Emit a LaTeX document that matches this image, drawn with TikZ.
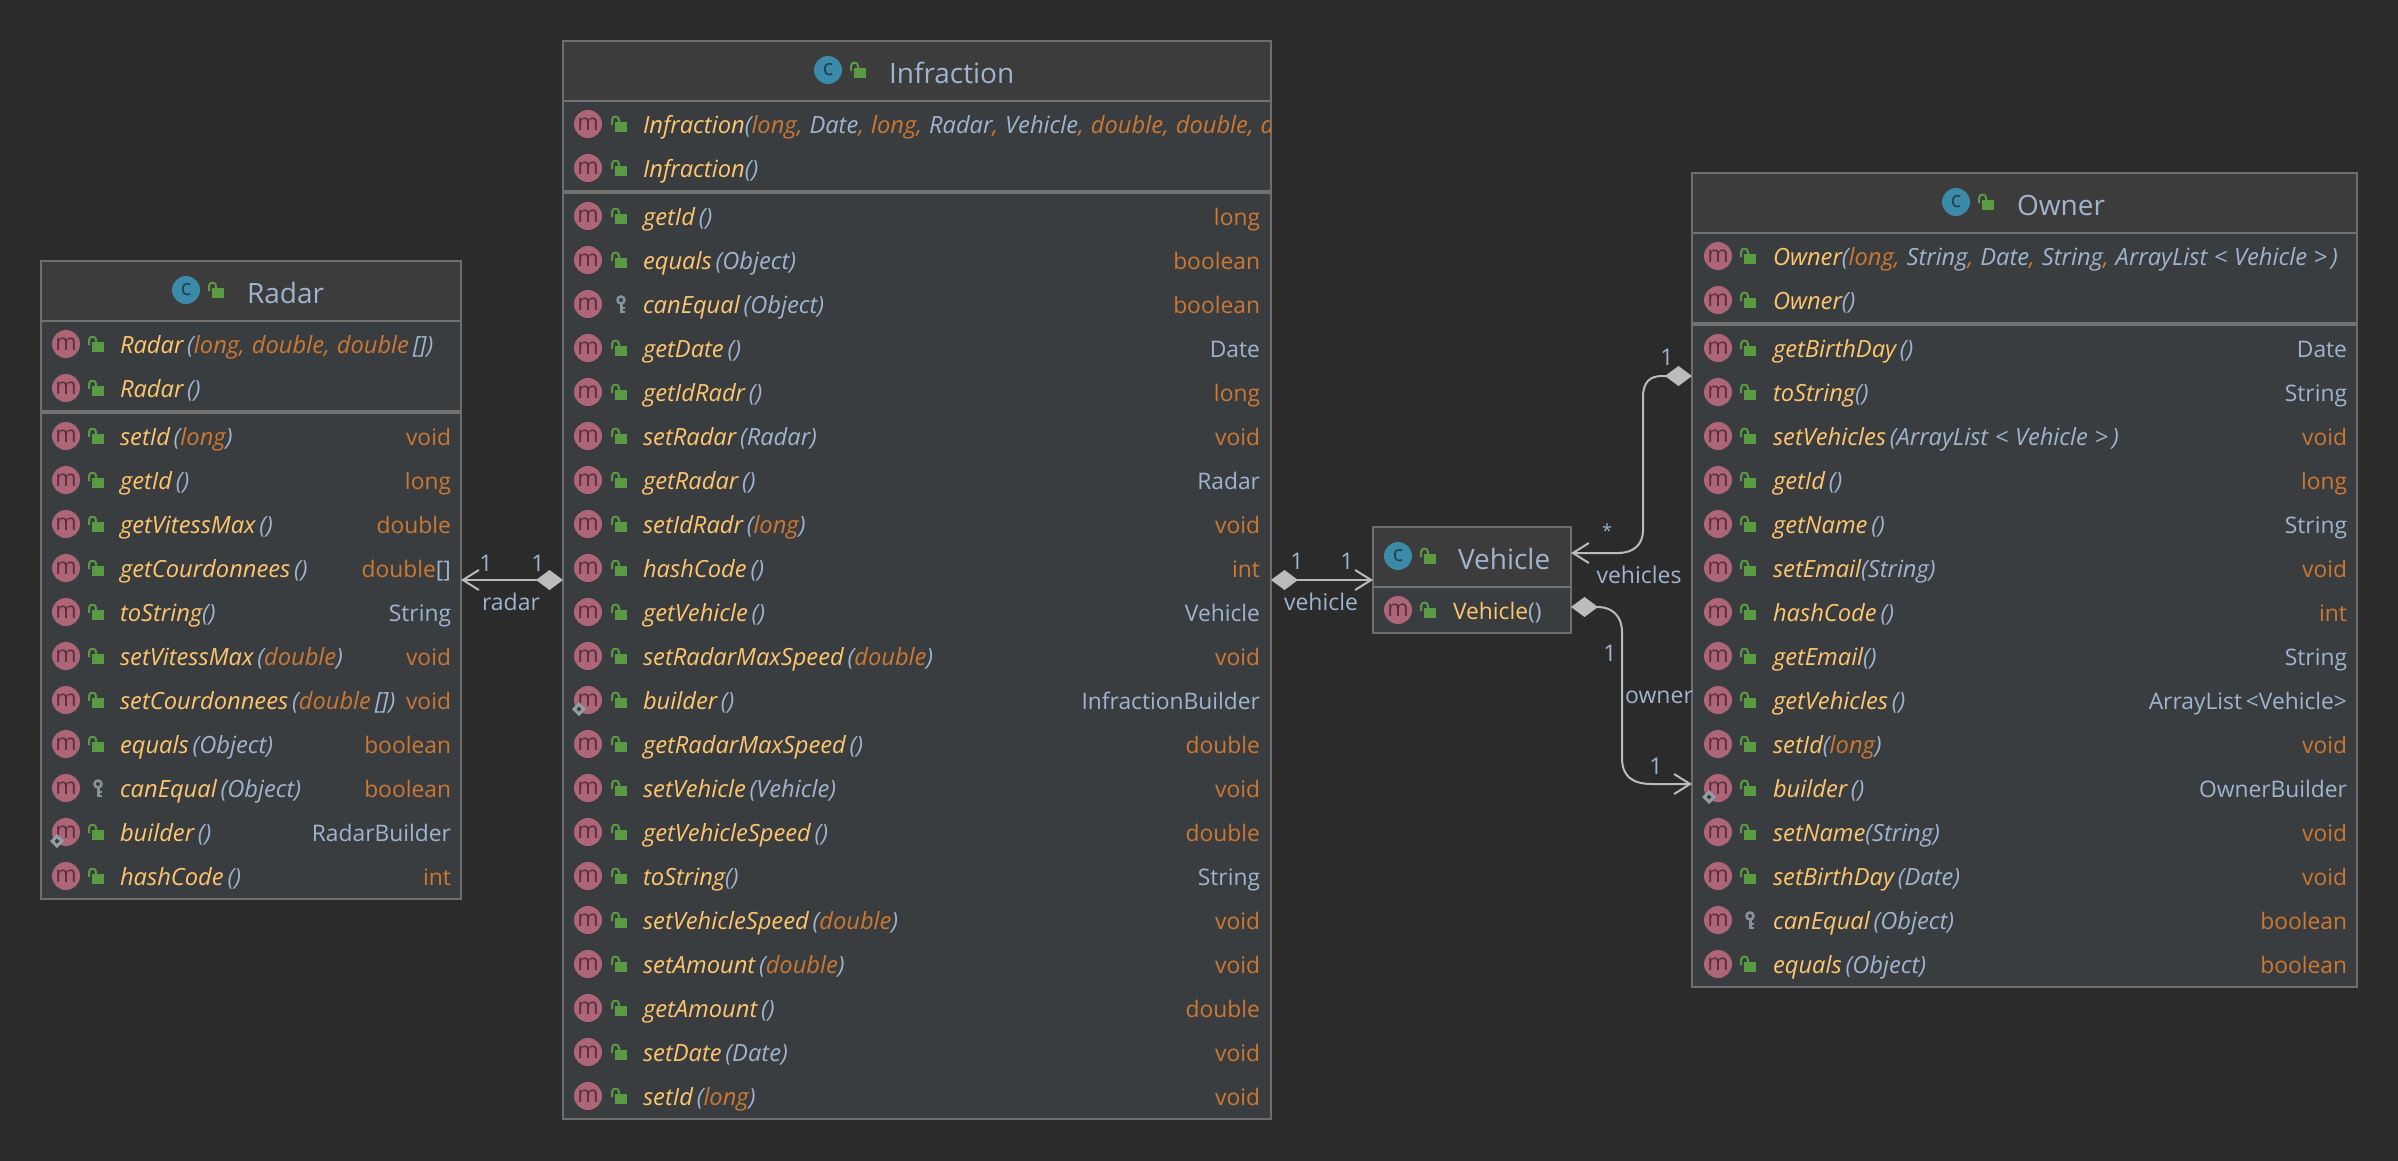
\documentclass[tikz,border=0pt]{standalone}
\usepackage{fontspec}
\setmainfont{Open Sans}
\usetikzlibrary{arrows.meta}
\definecolor{cBg}{HTML}{2B2B2B}
\definecolor{cHead}{HTML}{3C3C3C}
\definecolor{cBody}{HTML}{3A3D40}
\definecolor{cEdge}{HTML}{6E6E6E}
\definecolor{cSep}{HTML}{727272}
\definecolor{cM}{HTML}{AD6578}
\definecolor{cMt}{HTML}{5A2F3C}
\definecolor{cC}{HTML}{3A8AA8}
\definecolor{cCt}{HTML}{1F3F4E}
\definecolor{cLock}{HTML}{5A9A42}
\definecolor{cKey}{HTML}{87939A}
\definecolor{cY}{HTML}{FFC66D}
\definecolor{cB}{HTML}{A0B4CE}
\definecolor{cO}{HTML}{CC7832}
\definecolor{cLink}{HTML}{BBBBBB}
\newcommand\itsize{\fontsize{23.7}{27}\selectfont\itshape}
\newcommand\nm[1]{\textcolor{cY}{\itsize #1}}
\newcommand\tyi[1]{\textcolor{cB}{\itsize #1}}
\newcommand\pri[1]{\textcolor{cO}{\itsize #1}}
\newcommand\ty[1]{\textcolor{cB}{#1}}
\newcommand\pr[1]{\textcolor{cO}{#1}}
\newcommand\cm{\pri{,}\hspace{0.3em}}
\newcommand\pp{\tyi{()}}
\newcount\nodecnt
\newcommand\nx{\global\advance\nodecnt by 1\relax}
\newcommand\nid{t\the\nodecnt}
\tikzset{
  classbox/.style={draw=cEdge,line width=2pt,fill=cBody,inner sep=0pt,outer sep=0pt,rectangle},
  rowtext/.style={font=\fontsize{22.8}{27}\selectfont,inner sep=0pt,outer sep=0pt},
  titletext/.style={font=\fontsize{28}{32}\selectfont,text=cB,inner sep=0pt,outer sep=0pt,anchor=base west},
  linklabel/.style={font=\fontsize{23}{27}\selectfont,text=cB,inner sep=0pt,outer sep=0pt},
  iconm/.style={circle,fill=cM,minimum size=28pt,inner sep=0pt,outer sep=0pt,text=cMt,font=\fontsize{23}{23}\selectfont},
  iconc/.style={circle,fill=cC,minimum size=28pt,inner sep=0pt,outer sep=0pt,text=cCt,font=\fontsize{22}{22}\selectfont},
  assoc/.style={draw=cLink,line width=2pt,{Diamond[length=27pt,width=20pt,fill=cLink]}-{Straight Barb[length=16pt,width=20pt,line width=2pt]}},
}
\newcommand\lockicon[2]{%
  \fill[cLock] (#1-4,#2-2) rectangle (#1+8,#2+8);
  \draw[cLock,line width=2pt] (#1-7,#2+1) -- (#1-7,#2-4) .. controls (#1-7,#2-8.5) and (#1,#2-8.5) .. (#1,#2-4) -- (#1,#2-2);
}
\newcommand\keyicon[2]{%
  \draw[cKey,line width=2.5pt] (#1+2,#2-4) circle[radius=3.5];
  \draw[cKey,line width=3pt] (#1+2,#2-1) -- (#1+2,#2+9);
  \draw[cKey,line width=2pt] (#1+2,#2+4) -- (#1+6,#2+4) (#1+2,#2+8) -- (#1+6,#2+8);
}
\newcommand\statikicon[2]{%
  \fill[cKey!90!white] (#1-7,#2) -- (#1,#2-7) -- (#1+7,#2) -- (#1,#2+7) -- cycle;
  \fill[cBody] (#1-2.5,#2) -- (#1,#2-2.5) -- (#1+2.5,#2) -- (#1,#2+2.5) -- cycle;
}
\newcommand\setcols[4]{\def\mx{#1}\def\lx{#2}\def\tx{#3}\def\rx{#4}}
\newcommand\rowbase[3]{%
  \nx\node[iconm,name=\nid] at (\mx,#1) {m};
  \nx\node[rowtext,anchor=base west,name=\nid] at (\tx,#1+9) {#2};
  \nx\node[rowtext,anchor=base east,name=\nid] at (\rx,#1+9) {#3};
}
\newcommand\mrow[3]{\rowbase{#1}{#2}{#3}\lockicon{\lx}{#1}}
\newcommand\krow[3]{\rowbase{#1}{#2}{#3}\keyicon{\lx}{#1}}
\newcommand\brow[3]{\rowbase{#1}{#2}{#3}\lockicon{\lx}{#1}\statikicon{\mx-9}{#1+9}}
% name, left, top, right, bottom, title separator, constructor separator
\newcommand\umlbox[7]{%
  \node[classbox,name=#1,minimum width={(#4-#2)*1pt},minimum height={(#5-#3)*1pt}] at ({(#2+#4)/2},{(#3+#5)/2}) {};
  \fill[cHead] (#2+1,#3+1) rectangle (#4-1,#6);
  \draw[cSep,line width=2pt] (#2+1,#6) -- (#4-1,#6);
  \draw[cSep,line width=4pt] (#2+1,#7) -- (#4-1,#7);
}
\newcommand\umltitle[4]{%
  \nx\node[iconc,name=\nid] at (#1,#2) {c};
  \lockicon{#1+30}{#2}
  \nx\node[titletext,name=\nid] at (#3,#2+13) {#4};
}
\begin{document}
\begin{tikzpicture}[x=1pt,y=-1pt]
\useasboundingbox (0,0) rectangle (2398,1160);
\fill[cBg] (-4,-4) rectangle (2402,1164);
% Radar
\umlbox{radar}{41}{261}{461}{899}{321}{412}
\umltitle{186}{290}{247}{Radar}
\setcols{66}{96}{120}{451}
\mrow{344}{\nm{Radar}\,\tyi{(}\pri{long}\cm\pri{double}\cm\pri{double}\,\tyi{[])}}{}
\mrow{388}{\nm{Radar}\,\pp}{}
\mrow{436}{\nm{setId}\,\tyi{(}\pri{long}\tyi{)}}{\pr{void}}
\mrow{480}{\nm{getId}\,\pp}{\pr{long}}
\mrow{524}{\nm{getVitessMax}\,\pp}{\pr{double}}
\mrow{568}{\nm{getCourdonnees}\,\pp}{\pr{double}\ty{[]}}
\mrow{612}{\nm{toString}\pp}{\ty{String}}
\mrow{656}{\nm{setVitessMax}\,\tyi{(}\pri{double}\tyi{)}}{\pr{void}}
\mrow{700}{\nm{setCourdonnees}\,\tyi{(}\pri{double}\,\tyi{[])}}{\pr{void}}
\mrow{744}{\nm{equals}\,\tyi{(Object)}}{\pr{boolean}}
\krow{788}{\nm{canEqual}\,\tyi{(Object)}}{\pr{boolean}}
\brow{832}{\nm{builder}\,\pp}{\ty{RadarBuilder}}
\mrow{876}{\nm{hashCode}\,\pp}{\pr{int}}
% Infraction
\umlbox{infraction}{563}{41}{1271}{1119}{101}{192}
\umltitle{828}{70}{889}{Infraction}
\setcols{588}{619}{643}{1260}
\begin{scope}
\clip (564,102) rectangle (1270,146);
\mrow{124}{\nm{Infraction}\tyi{(}\pri{long}\cm\tyi{Date}\cm\pri{long}\cm\tyi{Radar}\cm\tyi{Vehicle}\cm\pri{double}\cm\pri{double}\cm\pri{double}}{}
\end{scope}
\mrow{168}{\nm{Infraction}\pp}{}
\mrow{216}{\nm{getId}\,\pp}{\pr{long}}
\mrow{260}{\nm{equals}\,\tyi{(Object)}}{\pr{boolean}}
\krow{304}{\nm{canEqual}\,\tyi{(Object)}}{\pr{boolean}}
\mrow{348}{\nm{getDate}\,\pp}{\ty{Date}}
\mrow{392}{\nm{getIdRadr}\,\pp}{\pr{long}}
\mrow{436}{\nm{setRadar}\,\tyi{(Radar)}}{\pr{void}}
\mrow{480}{\nm{getRadar}\,\pp}{\ty{Radar}}
\mrow{524}{\nm{setIdRadr}\,\tyi{(}\pri{long}\tyi{)}}{\pr{void}}
\mrow{568}{\nm{hashCode}\,\pp}{\pr{int}}
\mrow{612}{\nm{getVehicle}\,\pp}{\ty{Vehicle}}
\mrow{656}{\nm{setRadarMaxSpeed}\,\tyi{(}\pri{double}\tyi{)}}{\pr{void}}
\brow{700}{\nm{builder}\,\pp}{\ty{InfractionBuilder}}
\mrow{744}{\nm{getRadarMaxSpeed}\,\pp}{\pr{double}}
\mrow{788}{\nm{setVehicle}\,\tyi{(Vehicle)}}{\pr{void}}
\mrow{832}{\nm{getVehicleSpeed}\,\pp}{\pr{double}}
\mrow{876}{\nm{toString}\pp}{\ty{String}}
\mrow{920}{\nm{setVehicleSpeed}\,\tyi{(}\pri{double}\tyi{)}}{\pr{void}}
\mrow{964}{\nm{setAmount}\,\tyi{(}\pri{double}\tyi{)}}{\pr{void}}
\mrow{1008}{\nm{getAmount}\,\pp}{\pr{double}}
\mrow{1052}{\nm{setDate}\,\tyi{(Date)}}{\pr{void}}
\mrow{1096}{\nm{setId}\,\tyi{(}\pri{long}\tyi{)}}{\pr{void}}
% Owner
\umlbox{owner}{1692}{173}{2357}{987}{233}{324}
\umltitle{1956}{202}{2017}{Owner}
\setcols{1718}{1748}{1773}{2347}
\mrow{256}{\nm{Owner}\tyi{(}\pri{long}\cm\tyi{String}\cm\tyi{Date}\cm\tyi{String}\cm\tyi{ArrayList\;<\;Vehicle\;>\,)}}{}
\mrow{300}{\nm{Owner}\pp}{}
\mrow{348}{\nm{getBirthDay}\,\pp}{\ty{Date}}
\mrow{392}{\nm{toString}\pp}{\ty{String}}
\mrow{436}{\nm{setVehicles}\,\tyi{(ArrayList\;<\;Vehicle\;>\,)}}{\pr{void}}
\mrow{480}{\nm{getId}\,\pp}{\pr{long}}
\mrow{524}{\nm{getName}\,\pp}{\ty{String}}
\mrow{568}{\nm{setEmail}\tyi{(String)}}{\pr{void}}
\mrow{612}{\nm{hashCode}\,\pp}{\pr{int}}
\mrow{656}{\nm{getEmail}\pp}{\ty{String}}
\mrow{700}{\nm{getVehicles}\,\pp}{\ty{ArrayList\,<Vehicle>}}
\mrow{744}{\nm{setId}\tyi{(}\pri{long}\tyi{)}}{\pr{void}}
\brow{788}{\nm{builder}\,\pp}{\ty{OwnerBuilder}}
\mrow{832}{\nm{setName}\tyi{(String)}}{\pr{void}}
\mrow{876}{\nm{setBirthDay}\,\tyi{(Date)}}{\pr{void}}
\krow{920}{\nm{canEqual}\,\tyi{(Object)}}{\pr{boolean}}
\mrow{964}{\nm{equals}\,\tyi{(Object)}}{\pr{boolean}}
% Vehicle
\node[classbox,name=vehicle,minimum width=198pt,minimum height=106pt] at (1472,580) {};
\fill[cHead] (1374,528) rectangle (1570,587);
\draw[cSep,line width=2pt] (1374,587) -- (1570,587);
\umltitle{1398}{556}{1458}{Vehicle}
\setcols{1398}{1428}{1453}{1560}
\mrow{610}{\textcolor{cY}{Vehicle}\ty{()}}{}
% Connector levels
\coordinate (levelRadar) at (0,580);
\coordinate (levelVehicle) at (0,580);
\coordinate (levelOwnerTop) at (0,376);
\coordinate (levelVehiclesEnd) at (0,553);
\coordinate (levelOwnerStart) at (0,607);
\coordinate (levelOwnerEnd) at (0,784);
% Connectors
\draw[assoc] (infraction.west |- levelRadar) -- (radar.east |- levelRadar);
\draw[assoc] (infraction.east |- levelVehicle) -- (vehicle.west |- levelVehicle);
\draw[assoc] (owner.west |- levelOwnerTop) -- (1662,376) .. controls (1650,376) and (1643,382) .. (1643,397) -- (1643,530) .. controls (1643,546) and (1632,553) .. (1618,553) -- (vehicle.east |- levelVehiclesEnd);
\draw[assoc] (vehicle.east |- levelOwnerStart) -- (1598,607) .. controls (1612,607) and (1622,616) .. (1622,632) -- (1622,758) .. controls (1622,776) and (1632,784) .. (1652,784) -- (owner.west |- levelOwnerEnd);
% Labels
\node[linklabel,name=lr1] at (486,563) {1};
\node[linklabel,name=lr2] at (538,563) {1};
\node[linklabel,name=lr3] at (511,602) {radar};
\node[linklabel,name=lv1] at (1297,561) {1};
\node[linklabel,name=lv2] at (1347,561) {1};
\node[linklabel,name=lv3] at (1321,602) {vehicle};
\node[linklabel,name=lo1] at (1667,357) {1};
\node[linklabel,name=lo2,font=\fontsize{18}{20}\selectfont] at (1607,531) {*};
\node[linklabel,name=lo3] at (1639,575) {vehicles};
\node[linklabel,name=lw1] at (1610,653) {1};
\node[linklabel,name=lw2] at (1659,697) {owner};
\node[linklabel,name=lw3] at (1656,766) {1};
\end{tikzpicture}
\end{document}
